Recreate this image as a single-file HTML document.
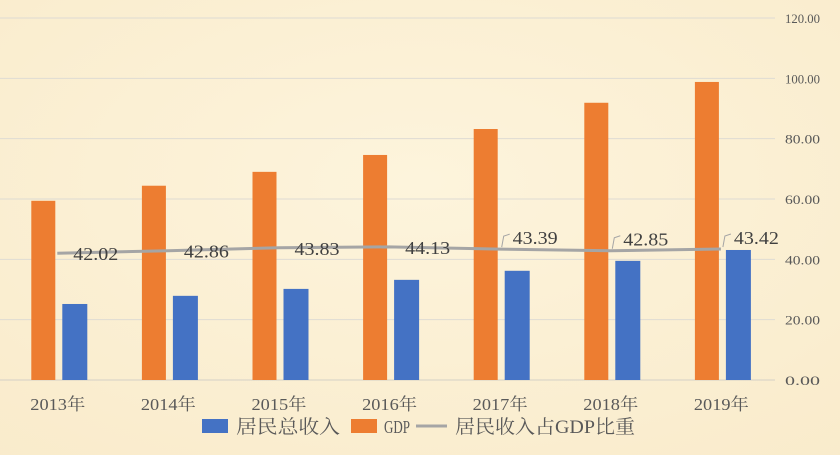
<!DOCTYPE html>
<html><head><meta charset="utf-8"><style>
body{margin:0;width:840px;height:455px;overflow:hidden;background:#fcf1d6;}
svg{display:block}
text{font-family:"Liberation Serif","Noto Serif CJK SC",serif;}
</style></head><body>
<svg id="c" width="840" height="455">
<defs>
<radialGradient id="bg" cx="50%" cy="40%" r="80%"><stop offset="0" stop-color="#fdf4dc"/><stop offset="1" stop-color="#f9ebcb"/></radialGradient>
</defs>
<rect width="840" height="455" fill="url(#bg)"/>
<g id="grid"></g><g id="bars"></g><g id="line"></g><g id="labels"></g>
<g>
<rect x="202" y="419" width="26" height="14" fill="#4472c4"/>
<text x="236" y="433" font-size="19" textLength="104" lengthAdjust="spacingAndGlyphs" fill="#595959">居民总收入</text>
<rect x="351" y="419" width="26" height="14" fill="#ed7d31"/>
<text x="384" y="433" font-size="18" textLength="26" lengthAdjust="spacingAndGlyphs" fill="#595959">GDP</text>
<line x1="416" y1="426" x2="447" y2="426" stroke="#a5a5a5" stroke-width="3"/>
<text x="455" y="433" font-size="19" textLength="180" lengthAdjust="spacingAndGlyphs" fill="#595959">居民收入占GDP比重</text>
</g>
</svg>
<script>
const categories=["2013年","2014年","2015年","2016年","2017年","2018年","2019年"];
const gdp=[59.4,64.4,69.0,74.6,83.2,91.9,98.8];
const income=[25.2,27.9,30.2,33.2,36.2,39.5,43.1];
const ratio=[42.02,42.86,43.83,44.13,43.39,42.85,43.42];
const ticks=[0,20,40,60,80,100,120];
const NS="http://www.w3.org/2000/svg";
const x0=2,cw=110.6,y0=380,ys=362/120;
const X=i=>x0+cw*(i+0.5), Y=v=>y0-v*ys;
function mk(tag,attrs,parent,txt){const e=document.createElementNS(NS,tag);for(const k in attrs)e.setAttribute(k,attrs[k]);if(txt!==undefined)e.textContent=txt;document.getElementById(parent).appendChild(e);return e;}
ticks.forEach(t=>{
 const l=mk('line',{x1:0,x2:775,y1:Y(t),y2:Y(t),stroke:t===0?'#d4d0c6':'#dedbd3','stroke-width':1},'grid');
 
 
 const tx=mk('text',{x:785,y:Y(t)+5,'font-size':13,fill:'#595959',textLength:35,lengthAdjust:'spacingAndGlyphs'},'grid',t.toFixed(2));
 
 
});
categories.forEach((c,i)=>{
 const g=mk('rect',{x:X(i)-26,y:Y(gdp[i]),width:24,height:gdp[i]*ys,fill:'#ed7d31'},'bars');
 
 
 const b=mk('rect',{x:X(i)+5,y:Y(income[i]),width:25,height:income[i]*ys,fill:'#4472c4'},'bars');
 
 
 const t=mk('text',{x:X(i)-27,y:410,'font-size':17,fill:'#595959',textLength:55,lengthAdjust:'spacingAndGlyphs'},'labels',c);
 
 
});
const pts=ratio.map((v,i)=>X(i)+','+Y(v)).join(' ');
const pl=mk('polyline',{points:pts,fill:'none',stroke:'#a5a5a5','stroke-width':3},'line');


ratio.forEach((v,i)=>{
 const px=X(i),py=Y(v);
 let tx=px+16,ty=py+7;
 if(i>=4){ty=py-5;
  const ld=mk('polyline',{points:`${px+2},${py-2} ${px+4},${py-13} ${px+10},${py-15}`,fill:'none',stroke:'#a5a5a5','stroke-width':1},'labels');
  
  
  tx=px+13;}
 const t=mk('text',{x:tx,y:ty,'font-size':18,fill:'#404040',textLength:45,lengthAdjust:'spacingAndGlyphs'},'labels',v.toFixed(2));
 
 
});
</script>
</body></html>
